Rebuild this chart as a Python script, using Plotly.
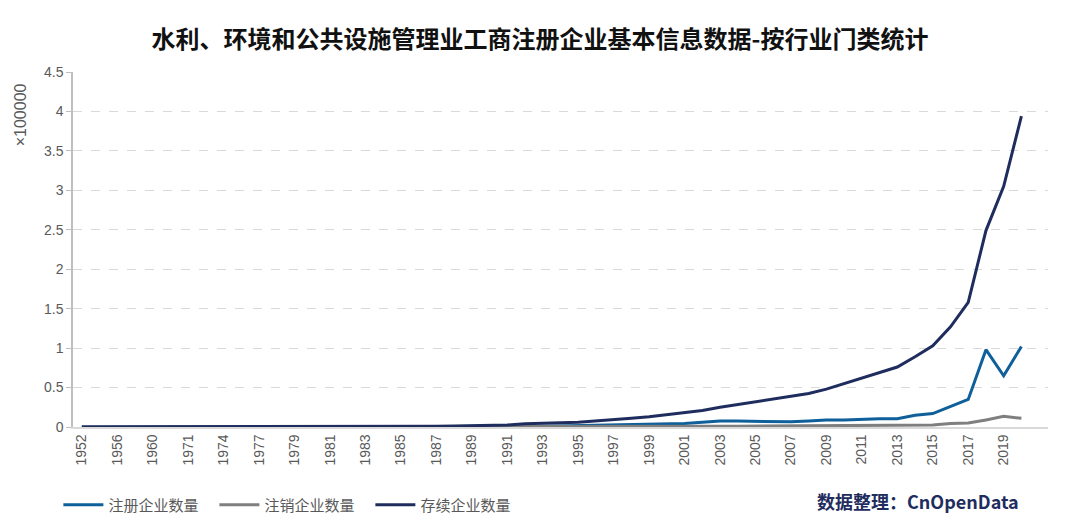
import plotly.graph_objects as go

years = ["1952", "1954", "1956", "1958", "1960", "1966", "1971", "1973", "1974", "1976"] + [str(y) for y in range(1977, 2021)]

registered = [0, 0, 0, 0, 0, 0, 0, 0, 0, 0,                                      # 1952-1976
              0, 0, 0, 0, 10, 20, 30, 40, 50, 60,                                # 1977-1986
              80, 100, 150, 200, 300, 500, 1000, 1500, 2000, 2200,               # 1987-1996
              2500, 3000, 3500, 4000, 4500, 6000, 7500, 7500, 7000, 7000,        # 1997-2006
              6500, 7500, 9000, 9000, 10000, 10500, 10500, 15000, 17000, 26000,  # 2007-2016
              35000, 98000, 65000, 102000]                                       # 2017-2020

cancelled = [0, 0, 0, 0, 0, 0, 0, 0, 0, 0,
             0, 0, 0, 0, 0, 0, 0, 0, 0, 0,
             0, 10, 20, 30, 50, 80, 100, 150, 200, 250,
             300, 400, 500, 600, 700, 800, 900, 1000, 1100, 1200,
             1300, 1400, 1500, 1600, 1700, 1800, 1900, 2000, 2500, 4500,
             5000, 9000, 13500, 11000]

existing = [100, 100, 150, 150, 200, 200, 250, 250, 300, 300,                    # 1952-1976
            350, 400, 450, 500, 550, 600, 650, 700, 800, 900,                    # 1977-1986
            1000, 1200, 1400, 2000, 2500, 4000, 5000, 5500, 6000, 7500,          # 1987-1996
            9000, 11000, 13000, 15500, 18000, 21000, 25000, 28500, 32000, 35000, # 1997-2006
            38500, 42500, 48000, 55000, 62000, 68500, 76000, 89000, 103000, 127000,  # 2007-2016
            158000, 249000, 305000, 394000]                                      # 2017-2020

series_names = ["注册企业数量", "注销企业数量", "存续企业数量"]
series_colors = ["#0f5f9a", "#7f7f7f", "#1f2d5e"]
y_ticks = [0, 50000, 100000, 150000, 200000, 250000, 300000, 350000, 400000, 450000]
y_tick_text = ["0", "0.5", "1", "1.5", "2", "2.5", "3", "3.5", "4", "4.5"]

font_main = "Liberation Sans, Noto Sans CJK SC, sans-serif"
font_cjk = "Noto Sans CJK SC, sans-serif"

fig = go.Figure()
for name, vals, col in zip(series_names, [registered, cancelled, existing], series_colors):
    fig.add_trace(go.Scatter(x=years, y=vals, mode="lines", name=name,
                             line=dict(color=col, width=3)))

fig.update_layout(
    width=1080, height=532,
    margin=dict(l=73, r=32, t=72, b=104),
    paper_bgcolor="white", plot_bgcolor="white",
    title=dict(text="<b>水利、环境和公共设施管理业工商注册企业基本信息数据-按行业门类统计</b>",
               x=0.5, xanchor="center", y=1 - 40 / 532, yanchor="middle",
               font=dict(family=font_cjk, size=24, color="#111111")),
    showlegend=True,
    legend=dict(orientation="h", x=-0.015, xanchor="left", y=-0.216, yanchor="middle",
                font=dict(family=font_cjk, size=15, color="#595959"),
                entrywidth=101, entrywidthmode="pixels", itemwidth=40,
                bgcolor="rgba(0,0,0,0)"),
    xaxis=dict(type="category", range=[-0.5, 54.5], tickmode="array",
               tickvals=years[::2], ticktext=years[::2], tickangle=-90,
               tickfont=dict(family=font_main, size=14, color="#595959"),
               showgrid=False, showline=True, linecolor="#d9d9d9", linewidth=1.5,
               ticks="", zeroline=False),
    yaxis=dict(range=[0, 450000], tickmode="array", tickvals=y_ticks, ticktext=y_tick_text,
               tickfont=dict(family=font_main, size=14, color="#595959"),
               showgrid=True, gridcolor="#d9d9d9", griddash="dash", gridwidth=1,
               showline=True, linecolor="#bfbfbf", linewidth=1.5,
               ticks="outside", ticklen=5, tickcolor="#bfbfbf", zeroline=False),
    annotations=[
        dict(text="×100000", xref="paper", yref="paper", x=-0.053, y=0.879,
             xanchor="center", yanchor="middle", textangle=-90, showarrow=False,
             font=dict(family=font_main, size=16, color="#595959")),
        dict(text="<b>数据整理：CnOpenData</b>", xref="paper", yref="paper",
             x=(1021 - 73) / 975, y=(428 - 502) / 356, xanchor="right", yanchor="middle",
             showarrow=False, font=dict(family=font_cjk, size=18, color="#1f2d5e")),
    ],
)

fig.write_html("out.html")
